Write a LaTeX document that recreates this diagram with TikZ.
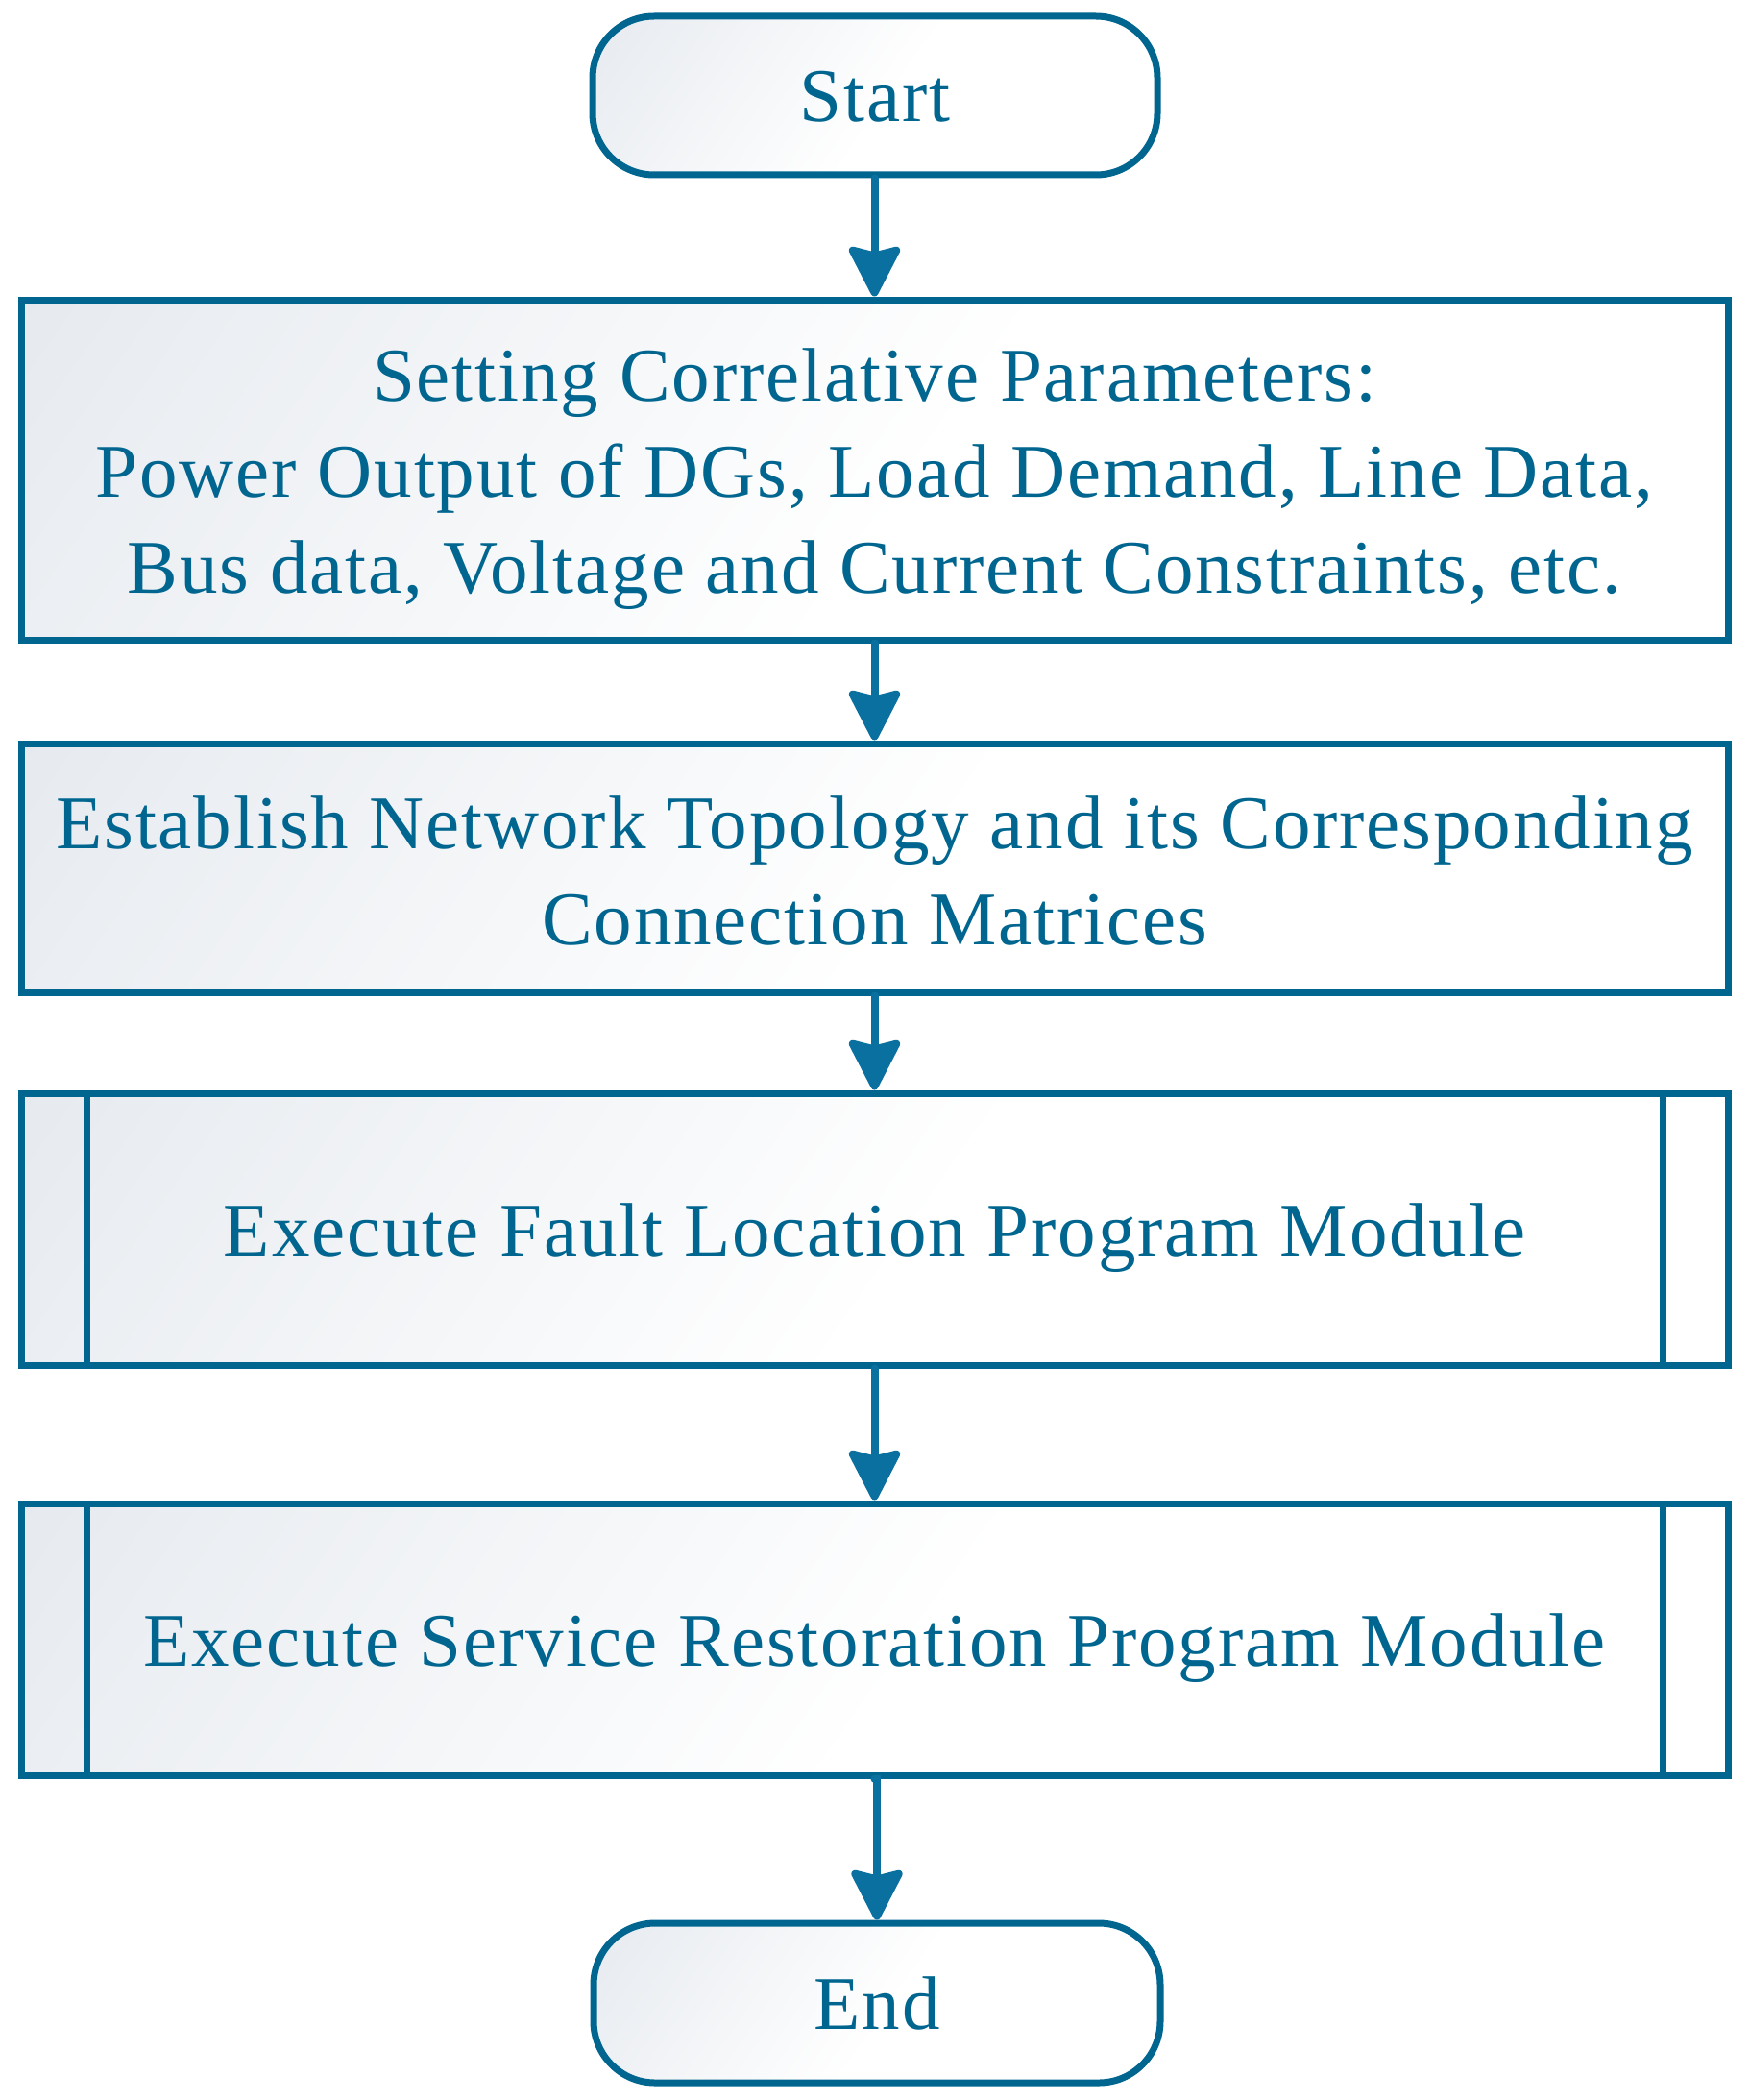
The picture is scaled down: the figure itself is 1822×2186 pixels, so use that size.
\documentclass[tikz,border=0pt]{standalone}
\usepackage{fontspec}
\setmainfont[LetterSpace=2.4]{Liberation Serif}
\usetikzlibrary{arrows.meta,positioning}
\definecolor{lineblue}{HTML}{006690}
\definecolor{arrowblue}{HTML}{0A70A0}
\definecolor{shadeA}{HTML}{E6EAEF}
\pgfdeclarehorizontalshading{boxshade}{100bp}{color(0bp)=(shadeA); color(15bp)=(shadeA); color(52bp)=(white); color(100bp)=(white)}
\tikzset{
  flowbox/.style={draw=lineblue, line width=7pt, shade, shading=boxshade, shading angle=-35,
    inner sep=0pt},
  termbox/.style={flowbox, rounded corners=64pt},
  boxtext/.style={text=lineblue, align=center, font=\fontsize{79}{100}\selectfont, inner sep=0pt},
  flowarrow/.style={draw=arrowblue, line width=8pt, line cap=round,
    -{Stealth[length=58pt, width=59pt, inset=7pt, round]}},
  subbar/.style={draw=lineblue, line width=7pt}
}
\begin{document}
\begin{tikzpicture}[x=1pt,y=-1pt]
\useasboundingbox (0,0) rectangle (1822,2186);
\node[termbox, minimum width=588pt, minimum height=165pt] (start) at (911,99.5) {};
\node[boxtext] (tstart) at ([yshift=-1pt]start.center) {Start};
\node[flowbox, minimum width=1777pt, minimum height=354pt] (b1) at (910.5,489) {};
\node[boxtext] (t1) at ([yshift=-10pt]b1.center)
  {Setting Correlative Parameters:\\Power Output of DGs, Load Demand, Line Data,\\Bus data, Voltage and Current Constraints, etc.};
\node[flowbox, minimum width=1777pt, minimum height=259pt] (b2) at (910.5,903.5) {};
\node[boxtext] (t2) at ([yshift=-3pt]b2.center)
  {Establish Network Topology and its Corresponding\\Connection Matrices};
\node[flowbox, minimum width=1777pt, minimum height=283pt] (b3) at (910.5,1279.5) {};
\node[boxtext] (t3) at ([yshift=-9pt]b3.center) {Execute Fault Location Program Module};
\node[flowbox, minimum width=1777pt, minimum height=283pt] (b4) at (910.5,1706.5) {};
\node[boxtext] (t4) at ([yshift=-9pt]b4.center) {Execute Service Restoration Program Module};
\node[termbox, minimum width=590pt, minimum height=166pt] (end) at (913,2085) {};
\node[boxtext] (tend) at (end.center) {End};
\draw[subbar] ([xshift=71.5pt]b3.north west) -- ([xshift=71.5pt]b3.south west);
\draw[subbar] ([xshift=-71pt]b3.north east) -- ([xshift=-71pt]b3.south east);
\draw[subbar] ([xshift=71.5pt]b4.north west) -- ([xshift=71.5pt]b4.south west);
\draw[subbar] ([xshift=-71pt]b4.north east) -- ([xshift=-71pt]b4.south east);
\draw[flowarrow] (start.south -| b1.north) -- (b1.north);
\draw[flowarrow] (b1) -- (b2);
\draw[flowarrow] (b2) -- (b3);
\draw[flowarrow] (b3) -- (b4);
\draw[flowarrow] (b4.south) -- (b4.south -| end.north) -- (end.north);
\end{tikzpicture}
\end{document}
